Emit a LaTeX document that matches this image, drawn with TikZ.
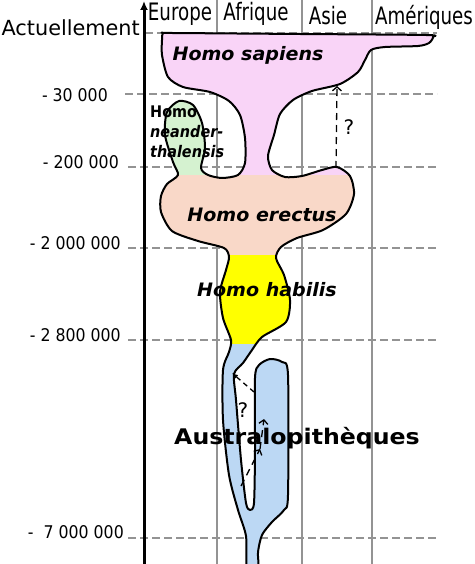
\documentclass[tikz,border=0pt]{standalone}
\usepackage{fontspec}
\setmainfont{DejaVu Sans}[ItalicFont=DejaVu Sans Oblique,BoldItalicFont=DejaVu Sans Bold Oblique]
\newfontfamily\headfont{DejaVu Sans}[FakeStretch=0.76]
\newfontfamily\tickfont{DejaVu Sans}[FakeStretch=0.9]
\newfontfamily\specfont{DejaVu Sans}[FakeStretch=1.03,BoldFont=DejaVu Sans Bold,
  ItalicFont=DejaVu Sans Oblique,BoldItalicFont=DejaVu Sans Bold Oblique]
\newfontfamily\widefont{DejaVu Sans}[FakeStretch=1.1,BoldFont=DejaVu Sans Bold]
\usetikzlibrary{arrows.meta}

\definecolor{sapienscol}{RGB}{249,212,247}
\definecolor{neandercol}{RGB}{213,242,208}
\definecolor{erectuscol}{RGB}{249,216,200}
\definecolor{habiliscol}{RGB}{255,255,0}
\definecolor{australcol}{RGB}{188,216,244}

% outline of the whole tree, in pixel units (y downwards)
\newcommand{\treeshape}{plot[smooth cycle,tension=0.45] coordinates {
  (163,33) (172,33) (300,34) (426,35) (433,37) (429,43) (418,46) (385,47)
  (371,50) (365,60)
  (358,72) (340,84) (312,91) (293,100) (280,114) (274,135) (268,156) (272,170)
  (285,177) (302,176) (322,170) (337,167) (350,176) (354,194) (346,214) (323,230)
  (297,238) (281,247) (276,258) (284,275) (290,300) (286,322) (262,337) (252,350)
  (243,363) (234,374) (236,400) (241,460) (246,503) (250,510) (254,503) (255,450)
  (255,378) (259,365) (270,359) (282,362) (288,375) (288,495) (284,510) (272,522)
  (262,535) (258,552) (258,568) (247,568) (246,536) (238,510) (229,475) (223,420)
  (223,370) (229,352) (231,340) (223,318) (220,292) (226,270) (229,257) (224,248)
  (198,241) (172,231) (161,212) (161,196) (167,184) (178,175) (173,162) (165,135)
  (167,112) (179,101) (193,105) (202,123) (205,148) (201,168) (208,175) (222,178)
  (238,175) (245,163) (245,138) (240,115) (229,101) (210,92) (183,87) (168,77)
  (162,55) (162,40)}}

\begin{document}
\begin{tikzpicture}[x=1pt,y=-1pt,
    gridline/.style={draw=gray!85,line width=1.6pt},
    timeline/.style={gridline,dash pattern=on 8pt off 4pt},
    bodyline/.style={line width=2pt,line join=round},
    era/.style={font=\tickfont\fontsize{17.5}{18}\selectfont,anchor=east,inner sep=0pt},
    regionlbl/.style={font=\headfont\fontsize{24}{26}\selectfont,inner sep=0pt},
    species/.style={font=\specfont\bfseries\itshape\fontsize{18.5}{20}\selectfont,inner sep=0pt},
    guess/.style={dash pattern=on 7pt off 5pt,line width=1.3pt,
        -{Straight Barb[length=4pt,width=9pt]}}]
    \fill[white] (0,0) rectangle (474,564);
    \useasboundingbox (0,0) rectangle (474,564);

    % columns and dates
    \foreach \x in {217,302,372}
        \draw[gridline] (\x,0) -- (\x,564);
    \foreach \y/\x in {33/145,94/125,167/128,248/128,340/128,538/128}
        \draw[timeline] (\x,\y) -- (437,\y);

    \node[regionlbl] (europe) at (180,14) {Europe};
    \node[regionlbl] (afrique) at (256,14) {Afrique};
    \node[regionlbl] (asie) at (328,16) {Asie};
    \node[regionlbl] (ameriques) at (424,17) {Amériques};

    \node[era,font=\fontsize{20.8}{22}\selectfont] (now) at (140,28) {Actuellement};
    \node[era] (d1) at (108,95) {- 30 000};
    \node[era] (d2) at (119,162) {- 200 000};
    \node[era] (d3) at (121,243) {- 2 000 000};
    \node[era] (d4) at (121,335) {- 2 800 000};
    \node[era] (d5) at (124,532) {-~~7 000 000};

    % coloured bands of the tree
    \begin{scope}
        \clip \treeshape;
        \fill[sapienscol] (140,0) rectangle (474,175);
        \fill[neandercol] (140,97) rectangle (210,175);
        \fill[erectuscol] (140,175) rectangle (474,255);
        \fill[habiliscol] (140,255) rectangle (474,344);
        \fill[australcol] (140,344) rectangle (474,570);
    \end{scope}
    \draw[bodyline] \treeshape;

    \coordinate (axbot) at (144,564);
    \coordinate (axtop) at (144,1);
    \draw[line width=3pt,-{Latex[length=9pt,width=8pt]}] (axbot) -- (axtop);

    \node[species] (sapiens) at (248,55) {Homo sapiens};
    \node[species,font=\tickfont\bfseries\fontsize{16}{20}\selectfont,align=left,anchor=north west]
        (neander) at (150,106) {Homo\\\itshape neander-\\\itshape thalensis};
    \node[species] (erectus) at (262,215) {Homo erectus};
    \node[species] (habilis) at (267,290) {Homo habilis};
    \node[font=\widefont\bfseries\fontsize{21.5}{24}\selectfont,inner sep=0pt] (austral) at (297,438) {Australopithèques};

    % uncertain links
    \coordinate (sapbase) at (336,168);
    \coordinate (saptip) at (337,86);
    \draw[guess] (sapbase) -- (saptip);
    \node[font=\fontsize{20}{20}\selectfont] (q1) at (349,127) {?};

    \coordinate (aulobe) at (254,392);
    \coordinate (autube) at (232,373);
    \draw[dash pattern=on 5pt off 4pt,line width=1.3pt,-{Latex[length=6pt,width=5pt]}] (aulobe) -- (autube);
    \coordinate (au1) at (241,486);
    \coordinate (au2) at (260,449);
    \coordinate (au3) at (264,419);
    \draw[guess] (au1) -- (au2);
    \draw[guess] (au2) -- (au3);
    \node[font=\fontsize{20}{20}\selectfont] (q2) at (243,410) {?};
\end{tikzpicture}
\end{document}
